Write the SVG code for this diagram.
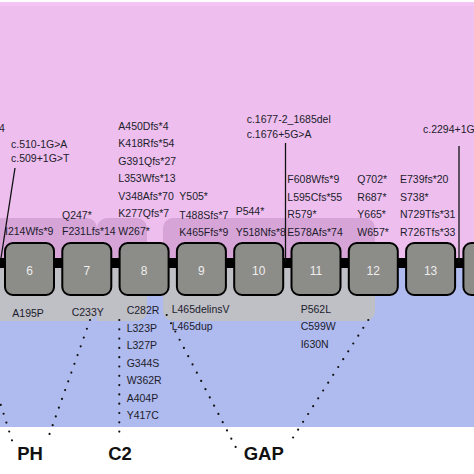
<svg xmlns="http://www.w3.org/2000/svg" width="474" height="474" viewBox="0 0 474 474">
<style>
.t{font-family:"Liberation Sans",Arial,sans-serif;font-size:10.5px;fill:#1c1c2c}
.dom{font-family:"Liberation Sans",Arial,sans-serif;font-size:18.5px;font-weight:bold;fill:#111;text-anchor:middle}
.ex{fill:#8c8c88;stroke:#000;stroke-width:2}
.num{font-family:"Liberation Sans",Arial,sans-serif;font-size:12px;fill:#eeeeee;text-anchor:middle}
.up{fill:#d7a4d8}
.lo{fill:#bfbfc6}
.dot{fill:none;stroke:#111;stroke-width:2.2;stroke-linecap:round;stroke-dasharray:0 9.3}
.ptr{fill:none;stroke:#111;stroke-width:1.3}
</style>
<rect x="0" y="0" width="474" height="474" fill="#ffffff"/>
<rect x="0" y="2" width="474" height="262" fill="#eebfee"/>
<rect x="0" y="2" width="474" height="4" fill="#f4c4f4"/>
<rect x="0" y="263" width="474" height="164" fill="#afbaee"/>
<g id="panels">
<path class="up" d="M-20,258 V218 H87 A10 10 0 0 1 97,228 V258 Z"/>
<path class="lo" d="M-20,268 V321 H87 A10 10 0 0 0 97,311 V268 Z"/>
<path class="up" d="M97,258 V228 A10 10 0 0 1 107,218 H137 A10 10 0 0 1 147,228 V258 Z"/>
<path class="lo" d="M97,268 V321 H137 A10 10 0 0 0 147,311 V268 Z"/>
<path class="up" d="M163,258 V228 A10 10 0 0 1 173,218 H365 A10 10 0 0 1 375,228 V258 Z"/>
<path class="lo" d="M163,268 V311 A10 10 0 0 0 173,321 H365 A10 10 0 0 0 375,311 V268 Z"/>
</g>
<rect x="0" y="258" width="474" height="10" fill="#000"/>
<g id="exon6"><rect class="ex" x="5" y="243" width="49" height="52" rx="8"/><text class="num" x="29.5" y="275">6</text></g>
<g id="exon7"><rect class="ex" x="62.3" y="243" width="49" height="52" rx="8"/><text class="num" x="86.8" y="275">7</text></g>
<g id="exon8"><rect class="ex" x="119.6" y="243" width="49" height="52" rx="8"/><text class="num" x="144.1" y="275">8</text></g>
<g id="exon9"><rect class="ex" x="176.9" y="243" width="49" height="52" rx="8"/><text class="num" x="201.4" y="275">9</text></g>
<g id="exon10"><rect class="ex" x="234.2" y="243" width="49" height="52" rx="8"/><text class="num" x="258.7" y="275">10</text></g>
<g id="exon11"><rect class="ex" x="291.5" y="243" width="49" height="52" rx="8"/><text class="num" x="316" y="275">11</text></g>
<g id="exon12"><rect class="ex" x="348.8" y="243" width="49" height="52" rx="8"/><text class="num" x="373.3" y="275">12</text></g>
<g id="exon13"><rect class="ex" x="406.1" y="243" width="49" height="52" rx="8"/><text class="num" x="430.6" y="275">13</text></g>
<g id="exon14"><rect class="ex" x="463.4" y="243" width="49" height="52" rx="8"/></g>
<g id="connectors">
<path class="ptr" d="M15,168 L1,258"/>
<path class="ptr" d="M285.5,143 V262"/>
<path class="ptr" d="M459,146 V262"/>
<path class="dot" d="M-2,396 L12.5,442"/>
<path class="dot" d="M90,320 L46.7,442"/>
<path class="dot" d="M119.3,320 V440"/>
<path class="dot" d="M166.7,315 L238.3,452"/>
<path class="dot" d="M368.3,320 L288.3,445"/>
</g>
<g id="truncating">
<text class="t" x="-1" y="132">4</text>
<text class="t" x="11" y="148">c.510-1G&gt;A</text>
<text class="t" x="11" y="162">c.509+1G&gt;T</text>
<text class="t" x="118.3" y="129.5">A450Dfs*4</text>
<text class="t" x="118.3" y="147">K418Rfs*54</text>
<text class="t" x="118.3" y="164.5">G391Qfs*27</text>
<text class="t" x="118.3" y="182">L353Wfs*13</text>
<text class="t" x="118.3" y="199.5">V348Afs*70</text>
<text class="t" x="118.3" y="217">K277Qfs*7</text>
<text class="t" x="118.3" y="234.5">W267*</text>
<text class="t" x="62" y="219">Q247*</text>
<text class="t" x="5" y="235">I214Wfs*9</text>
<text class="t" x="62" y="235">F231Lfs*14</text>
<text class="t" x="179.3" y="200">Y505*</text>
<text class="t" x="179.3" y="219">T488Sfs*7</text>
<text class="t" x="179.3" y="236">K465Ffs*9</text>
<text class="t" x="235.7" y="215">P544*</text>
<text class="t" x="235.7" y="236">Y518Nfs*8</text>
<text class="t" x="246.7" y="123">c.1677-2_1685del</text>
<text class="t" x="246.7" y="137.5">c.1676+5G&gt;A</text>
<text class="t" x="287.3" y="183">F608Wfs*9</text>
<text class="t" x="287.3" y="200.7">L595Cfs*55</text>
<text class="t" x="287.3" y="218">R579*</text>
<text class="t" x="287.3" y="236">E578Afs*74</text>
<text class="t" x="357.3" y="183">Q702*</text>
<text class="t" x="357.3" y="200.7">R687*</text>
<text class="t" x="357.3" y="218">Y665*</text>
<text class="t" x="357.3" y="236">W657*</text>
<text class="t" x="400" y="183">E739fs*20</text>
<text class="t" x="400" y="200.7">S738*</text>
<text class="t" x="400" y="218">N729Tfs*31</text>
<text class="t" x="400" y="236">R726Tfs*33</text>
<text class="t" x="423" y="133">c.2294+1G</text>
</g>
<g id="missense">
<text class="t" x="12.3" y="317">A195P</text>
<text class="t" x="71.7" y="316">C233Y</text>
<text class="t" x="126.7" y="314">C282R</text>
<text class="t" x="126.7" y="331.5">L323P</text>
<text class="t" x="126.7" y="349">L327P</text>
<text class="t" x="126.7" y="366.5">G344S</text>
<text class="t" x="126.7" y="384">W362R</text>
<text class="t" x="126.7" y="401.5">A404P</text>
<text class="t" x="126.7" y="419">Y417C</text>
<text class="t" x="171.7" y="313">L465delinsV</text>
<text class="t" x="171.7" y="330">L465dup</text>
<text class="t" x="300.7" y="312.5">P562L</text>
<text class="t" x="300.7" y="330">C599W</text>
<text class="t" x="300.7" y="347.5">I630N</text>
</g>
<g id="domain-PH"><text class="dom" x="30" y="460">PH</text></g>
<g id="domain-C2"><text class="dom" x="120" y="460">C2</text></g>
<g id="domain-GAP"><text class="dom" x="263.7" y="459.5">GAP</text></g>
</svg>
